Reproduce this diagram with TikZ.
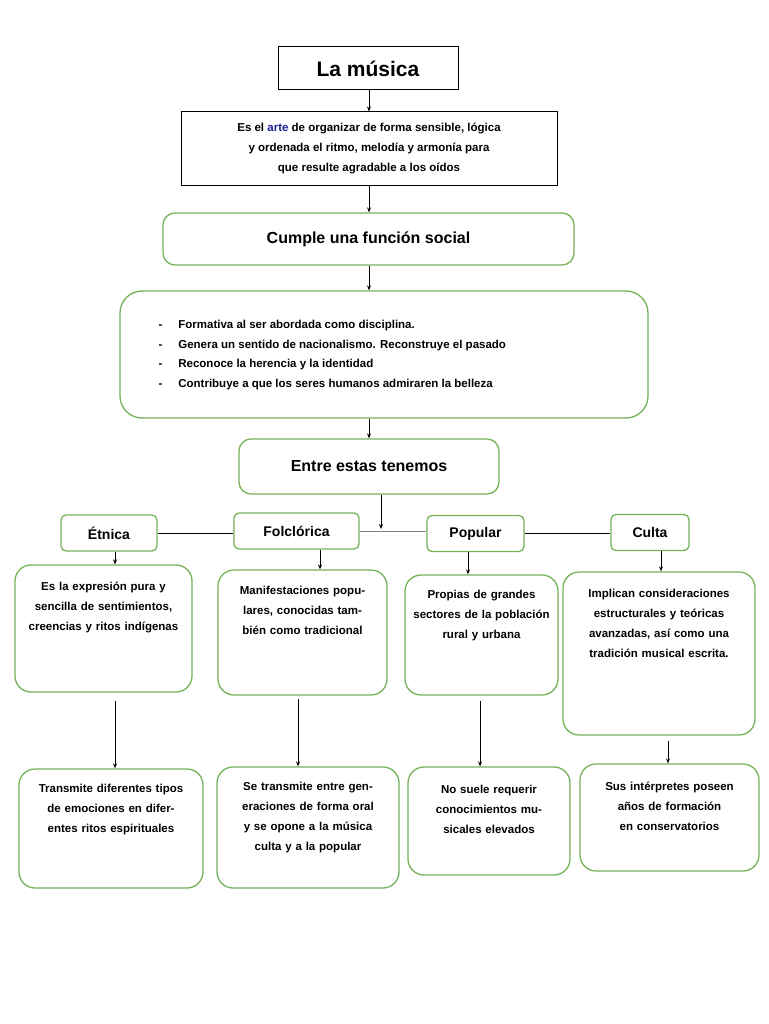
\documentclass[tikz,border=0pt]{standalone}
\usepackage{fontspec}
\setmainfont{Liberation Sans}
\usetikzlibrary{arrows.meta}
\definecolor{gr}{RGB}{118,178,88}
\definecolor{arteblue}{RGB}{30,30,150}
\begin{document}
\begin{tikzpicture}[x=1pt,y=-1pt,
 sq/.style={draw=black,line width=1pt,align=center,font=\bfseries},
 rb/.style={draw=gr,line width=1.3pt,rounded corners=12pt,align=center,font=\bfseries},
 arr/.style={-{Stealth[length=5pt,width=4pt]},line width=0.7pt},
 ln/.style={line width=1pt}]
\useasboundingbox (0,0) rectangle (768,1024);
\fill[white] (0,0) rectangle (768,1024);
% boxes
\node[sq,minimum width=180,minimum height=43,font=\bfseries\fontsize{21}{24}\selectfont] (t) at (368,68.5) {La música};
\node[sq,minimum width=376,minimum height=74,font=\bfseries\fontsize{11.5}{20}\selectfont] (d) at (369,149) {Es el {\color{arteblue}arte} de organizar de forma sensible, lógica\\y ordenada el ritmo, melodía y armonía para\\que resulte agradable a los oídos};
\node[rb,minimum width=411,minimum height=52,font=\bfseries\fontsize{16}{19}\selectfont] (c) at (368.5,239) {Cumple una función social};
\node[rb,rounded corners=22pt,minimum width=528,minimum height=127] (l) at (384,354.5) {};
\node[anchor=west,align=left,font=\bfseries\fontsize{11.5}{19.5}\selectfont] (lt) at (155,355) {-\hspace{16pt}Formativa al ser abordada como disciplina.\\-\hspace{16pt}Genera un sentido de nacionalismo. Reconstruye el pasado\\-\hspace{16pt}Reconoce la herencia y la identidad\\-\hspace{16pt}Contribuye a que los seres humanos admiraren la belleza};
\node[rb,minimum width=260,minimum height=55,font=\bfseries\fontsize{16}{19}\selectfont] (e) at (369,466.5) {Entre estas tenemos};
\tikzset{cat/.style={rb,rounded corners=5pt,minimum height=36,font=\bfseries\fontsize{14}{17}\selectfont}}
\node[cat,minimum width=96] (c1) at (109,533) {Étnica};
\node[cat,minimum width=125] (c2) at (296.5,531) {Folclórica};
\node[cat,minimum width=97] (c3) at (475.5,533.5) {Popular};
\node[cat,minimum width=78] (c4) at (650,532.5) {Culta};
\tikzset{ds/.style={rb,rounded corners=16pt,font=\bfseries\fontsize{11.5}{20}\selectfont}}
\node[ds,minimum width=177,minimum height=127] (a1) at (103.5,628.5) {};
\node[ds,anchor=north,draw=none,text width=160] (a1t) at (103.5,578) {Es la expresión pura y sencilla de sentimientos, creencias y ritos indígenas};
\node[ds,minimum width=169,minimum height=125] (a2) at (302.5,632.5) {};
\node[ds,anchor=north,draw=none,text width=150] (a2t) at (302.5,582) {Manifestaciones populares, conocidas también como tradicional};
\node[ds,minimum width=153,minimum height=120] (a3) at (481.5,635) {};
\node[ds,anchor=north,draw=none,text width=140] (a3t) at (481.5,586) {Propias de grandes sectores de la población rural y urbana};
\node[ds,minimum width=192,minimum height=163] (a4) at (659,653.5) {};
\node[ds,anchor=north,draw=none,text width=165] (a4t) at (659,585) {Implican consideraciones estructurales y teóricas avanzadas, así como una tradición musical escrita.};
\node[ds,minimum width=184,minimum height=119] (b1) at (111,828.5) {};
\node[ds,anchor=north,draw=none,text width=160] (b1t) at (111,780) {Transmite diferentes tipos de emociones en diferentes ritos espirituales};
\node[ds,minimum width=182,minimum height=121] (b2) at (308,827.5) {};
\node[ds,anchor=north,draw=none,text width=170] (b2t) at (308,778) {Se transmite entre generaciones de forma oral y se opone a la música culta y a la popular};
\node[ds,minimum width=162,minimum height=108] (b3) at (489,821) {};
\node[ds,anchor=north,draw=none,text width=150] (b3t) at (489,781) {No suele requerir conocimientos musicales elevados};
\node[ds,minimum width=179,minimum height=107] (b4) at (669.5,817.5) {};
\node[ds,anchor=north,draw=none,text width=160] (b4t) at (669.5,778) {Sus intérpretes poseen años de formación en conservatorios};
% connectors
\draw[arr] (t.south -| 369,0) -- (d.north -| 369,0);
\draw[arr] (d.south -| 369,0) -- (c.north -| 369,0);
\draw[arr] (c.south -| 369,0) -- (l.north -| 369,0);
\draw[arr] (l.south -| 369,0) -- (e.north -| 369,0);
\coordinate (j) at (381,529);
\draw[arr] (e.south -| j) -- (j);
\draw[ln] (c1.east) -- (c1.east -| c2.west);
\draw[ln,gray] (c2.east) -- (c3.west |- c2.east);
\draw[ln] (c3.east) -- (c4.west |- c3.east);
\draw[arr] (c1.south -| 115,0) -- (a1.north -| 115,0);
\draw[arr] (c2.south -| 320,0) -- (a2.north -| 320,0);
\draw[arr] (c3.south -| 468,0) -- (a3.north -| 468,0);
\draw[arr] (c4.south -| 661,0) -- (a4.north -| 661,0);
\draw[arr] (a1.south -| 115,0) ++(0,8) -- (b1.north -| 115,0);
\draw[arr] (a2.south -| 298,0) ++(0,3) -- (b2.north -| 298,0);
\draw[arr] (a3.south -| 480,0) ++(0,5) -- (b3.north -| 480,0);
\draw[arr] (a4.south -| 668,0) ++(0,5) -- (b4.north -| 668,0);
\end{tikzpicture}
\end{document}
